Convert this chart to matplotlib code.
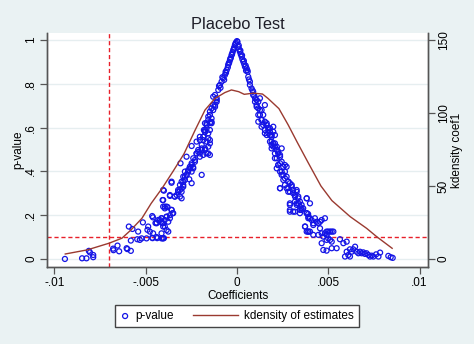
import numpy as np
import matplotlib.pyplot as plt
from matplotlib.legend_handler import HandlerLine2D

plt.rcParams['font.family'] = ['Liberation Sans', 'DejaVu Sans']

# %% Daten

coef = [
    # linker Rand
    -0.00942, -0.00848, -0.00824, -0.00811, -0.00805, -0.00787, -0.00787,
    -0.00678, -0.00676, -0.00654, -0.00645, -0.00604, -0.00600, -0.00581,
    -0.00592, -0.00572, -0.00581, -0.00541, -0.00532, -0.00522, -0.00546,
    -0.00515, -0.00486, -0.00490, -0.00477, -0.00464, -0.00460, -0.00440,
    -0.00446, -0.00495, -0.00464, -0.00440, -0.00416, -0.00410, -0.00413,
    # linke Flanke
    -0.00462, -0.00437, -0.00407, -0.00400, -0.00459, -0.00440, -0.00431,
    -0.00413, -0.00395, -0.00385, -0.00376, -0.00404, -0.00385, -0.00367,
    -0.00358, -0.00353, -0.00395, -0.00404, -0.00385, -0.00407, -0.00400,
    -0.00367, -0.00340, -0.00358, -0.00322, -0.00312, -0.00303, -0.00303,
    -0.00294, -0.00294, -0.00285, -0.00276, -0.00309, -0.00285, -0.00267,
    -0.00261, -0.00256, -0.00248, -0.00240, -0.00248, -0.00276, -0.00248,
    -0.00230, -0.00221, -0.00212, -0.00203, -0.00193, -0.00221, -0.00203,
    -0.00193, -0.00185, -0.00175, -0.00167, -0.00157, -0.00184, -0.00181,
    -0.00166, -0.00157, -0.00148, -0.00175, -0.00148, -0.00139, -0.00148,
    -0.00157, -0.00184, -0.00175, -0.00166, -0.00157, -0.00148, -0.00139,
    -0.00130, -0.00120, -0.00111, -0.00130, -0.00193, -0.00175,
    -0.00148, -0.00157, -0.00166, -0.00139, -0.00148, -0.00175, -0.00184,
    -0.00203, -0.00157, -0.00166, -0.00148, -0.00193, -0.00175, -0.00212,
    -0.00203, -0.00221, -0.00239, -0.00230, -0.00248, -0.00258, -0.00239,
    -0.00267, -0.00248, -0.00276, -0.00294, -0.00285, -0.00303, -0.00312,
    -0.00294, -0.00322, -0.00303, -0.00330, -0.00312, -0.00358, -0.00340,
    -0.00367, -0.00404, -0.00404, -0.00395, -0.00380, -0.00358, -0.00349,
    -0.00367, -0.00385, -0.00413, -0.00404, -0.00422, -0.00395, -0.00376,
    -0.00413, -0.00404, -0.00120, -0.00130, -0.00111,
    # Spitze links
    -0.00102, -0.00093, -0.00084, -0.00075, -0.00066, -0.00060, -0.00056,
    -0.00048, -0.00042, -0.00038, -0.00033, -0.00029, -0.00024, -0.00020,
    -0.00015, -0.00011, -0.00006, 0.00000, -0.00120, -0.00111, -0.00139,
    -0.00090, -0.00070, -0.00050, -0.00098, -0.00080, -0.00062, -0.00045,
    -0.00036, -0.00027, -0.00017, -0.00008,
    # Spitze rechts
    0.00003, 0.00007, 0.00012, 0.00016, 0.00021, 0.00026, 0.00030, 0.00035,
    0.00040, 0.00044, 0.00053, 0.00059, 0.00062, 0.00071, 0.00071, 0.00080,
    0.00089, 0.00089, 0.00099, 0.00108, 0.00117, 0.00126, 0.00108, 0.00117,
    0.00135, 0.00126, 0.00144, 0.00153, 0.00135, 0.00153, 0.00163, 0.00172,
    0.00181, 0.00190, 0.00199, 0.00208, 0.00190, 0.00208, 0.00050, 0.00066,
    0.00085, 0.00095, 0.00010, 0.00019, 0.00028, 0.00038, 0.00048, 0.00057,
    # rechte Flanke
    0.00117, 0.00135, 0.00153, 0.00172, 0.00181, 0.00190, 0.00199, 0.00218,
    0.00226, 0.00208, 0.00236, 0.00245, 0.00218, 0.00226, 0.00236, 0.00263,
    0.00272, 0.00245, 0.00254, 0.00263, 0.00236, 0.00281, 0.00290, 0.00272,
    0.00281, 0.00300, 0.00308, 0.00318, 0.00327, 0.00336, 0.00318, 0.00327,
    0.00336, 0.00290, 0.00290, 0.00345, 0.00354, 0.00308, 0.00382, 0.00400,
    0.00345, 0.00382, 0.00391, 0.00400, 0.00409, 0.00427, 0.00437, 0.00418,
    0.00446, 0.00464, 0.00482, 0.00373, 0.00382, 0.00400, 0.00455, 0.00464,
    0.00446, 0.00491, 0.00500, 0.00519,
    0.00099, 0.00108, 0.00126, 0.00117, 0.00135, 0.00144, 0.00163, 0.00153,
    0.00172, 0.00181, 0.00199, 0.00163, 0.00190, 0.00181, 0.00199, 0.00208,
    0.00190, 0.00218, 0.00226, 0.00208, 0.00236, 0.00245, 0.00226, 0.00218,
    0.00254, 0.00236, 0.00263, 0.00245, 0.00272, 0.00254, 0.00281, 0.00263,
    0.00300, 0.00236, 0.00281, 0.00290, 0.00308, 0.00327, 0.00318, 0.00336,
    0.00345, 0.00327, 0.00354, 0.00382, 0.00290, 0.00290, 0.00318, 0.00345,
    0.00363, 0.00382, 0.00391, 0.00373, 0.00391,
    # rechter Rand
    0.00354, 0.00390, 0.00418, 0.00455, 0.00391, 0.00418, 0.00473, 0.00482,
    0.00491, 0.00510, 0.00528, 0.00500, 0.00510, 0.00491, 0.00519, 0.00464,
    0.00473, 0.00491, 0.00519, 0.00546, 0.00564, 0.00583, 0.00601, 0.00601,
    0.00619, 0.00628, 0.00637, 0.00647, 0.00656, 0.00665, 0.00674, 0.00683,
    0.00692, 0.00701, 0.00710, 0.00720, 0.00729, 0.00738, 0.00747, 0.00762,
    0.00775, 0.00784, 0.00610, 0.00592, 0.00619, 0.00829, 0.00842, 0.00853,
]

pval = [
    # linker Rand
    0.000, 0.003, 0.003, 0.037, 0.030, 0.018, 0.008,
    0.047, 0.040, 0.061, 0.035, 0.049, 0.045, 0.037,
    0.148, 0.137, 0.084, 0.125, 0.087, 0.094, 0.090,
    0.167, 0.148, 0.133, 0.125, 0.196, 0.190, 0.166,
    0.164, 0.094, 0.097, 0.100, 0.170, 0.164, 0.094,
    # linke Flanke
    0.095, 0.095, 0.095, 0.095, 0.117, 0.163, 0.178,
    0.186, 0.178, 0.193, 0.170, 0.148, 0.132, 0.186,
    0.224, 0.209, 0.231, 0.239, 0.239, 0.269, 0.312,
    0.288, 0.285, 0.348, 0.307, 0.315, 0.277, 0.322,
    0.338, 0.352, 0.376, 0.384, 0.437, 0.399, 0.406,
    0.364, 0.414, 0.437, 0.420, 0.346, 0.467, 0.516,
    0.452, 0.482, 0.489, 0.467, 0.384, 0.536, 0.543,
    0.505, 0.475, 0.498, 0.482, 0.482, 0.558, 0.589,
    0.597, 0.574, 0.543, 0.620, 0.622, 0.626, 0.475,
    0.513, 0.543, 0.589, 0.620, 0.650, 0.673, 0.642,
    0.703, 0.695, 0.726, 0.741, 0.498, 0.581,
    0.658, 0.635, 0.612, 0.620, 0.589, 0.581, 0.558,
    0.558, 0.551, 0.536, 0.528, 0.521, 0.505, 0.498,
    0.482, 0.482, 0.460, 0.444, 0.429, 0.421, 0.414,
    0.399, 0.399, 0.384, 0.376, 0.361, 0.353, 0.338,
    0.330, 0.315, 0.307, 0.292, 0.285, 0.353, 0.285,
    0.292, 0.315, 0.269, 0.239, 0.237, 0.224, 0.209,
    0.200, 0.193, 0.186, 0.163, 0.178, 0.148, 0.125,
    0.117, 0.094, 0.703, 0.680, 0.718,
    # Spitze links
    0.772, 0.795, 0.810, 0.826, 0.840, 0.850, 0.863,
    0.886, 0.898, 0.909, 0.920, 0.932, 0.944, 0.954,
    0.966, 0.977, 0.988, 0.995, 0.749, 0.734, 0.688,
    0.782, 0.818, 0.875, 0.790, 0.830, 0.855, 0.893,
    0.915, 0.935, 0.960, 0.982,
    # Spitze rechts
    0.992, 0.969, 0.958, 0.947, 0.935, 0.924, 0.912, 0.901,
    0.890, 0.878, 0.871, 0.855, 0.832, 0.810, 0.795, 0.779,
    0.764, 0.749, 0.734, 0.726, 0.718, 0.734, 0.703, 0.688,
    0.680, 0.658, 0.658, 0.703, 0.635, 0.627, 0.612, 0.597,
    0.581, 0.566, 0.581, 0.566, 0.536, 0.528, 0.860, 0.820,
    0.770, 0.745, 0.975, 0.952, 0.930, 0.905, 0.883, 0.862,
    # rechte Flanke
    0.627, 0.604, 0.574, 0.589, 0.566, 0.521, 0.513, 0.513,
    0.490, 0.482, 0.475, 0.505, 0.460, 0.429, 0.437, 0.429,
    0.421, 0.399, 0.384, 0.368, 0.323, 0.353, 0.346, 0.323,
    0.307, 0.330, 0.315, 0.292, 0.307, 0.285, 0.262, 0.247,
    0.254, 0.254, 0.224, 0.239, 0.224, 0.216, 0.277, 0.254,
    0.209, 0.209, 0.193, 0.186, 0.178, 0.186, 0.170, 0.155,
    0.163, 0.178, 0.186, 0.148, 0.125, 0.125, 0.140, 0.117,
    0.110, 0.110, 0.125, 0.125,
    0.718, 0.695, 0.680, 0.658, 0.635, 0.612, 0.620, 0.589,
    0.574, 0.597, 0.604, 0.566, 0.558, 0.536, 0.528, 0.513,
    0.505, 0.498, 0.482, 0.460, 0.467, 0.444, 0.429, 0.414,
    0.421, 0.399, 0.399, 0.384, 0.376, 0.361, 0.353, 0.338,
    0.338, 0.323, 0.323, 0.307, 0.300, 0.315, 0.285, 0.277,
    0.262, 0.254, 0.247, 0.277, 0.247, 0.216, 0.216, 0.224,
    0.231, 0.209, 0.186, 0.148, 0.125,
    # rechter Rand
    0.231, 0.205, 0.163, 0.170, 0.125, 0.110, 0.102, 0.117,
    0.125, 0.125, 0.125, 0.094, 0.087, 0.087, 0.079, 0.072,
    0.041, 0.038, 0.049, 0.049, 0.090, 0.072, 0.079, 0.033,
    0.044, 0.033, 0.044, 0.056, 0.033, 0.026, 0.033, 0.026,
    0.030, 0.023, 0.026, 0.018, 0.011, 0.015, 0.011, 0.021,
    0.011, 0.029, 0.018, 0.011, 0.011, 0.014, 0.008, 0.005,
]

kd_x = [-0.0094, -0.0082, -0.0070, -0.0063, -0.0058, -0.0052, -0.0047, -0.0041,
        -0.0035, -0.0029, -0.0023, -0.00175, -0.0012, -0.00066, -0.0003, 0.0001,
        0.0004, 0.0009, 0.0014, 0.0017, 0.0023, 0.0028, 0.0033, 0.0039, 0.0046,
        0.0052, 0.0062, 0.0071, 0.00765, 0.0085]
kd_y = [3.4, 6.2, 10.8, 14.2, 19.9, 27.9, 38.0, 48.4,
        60.0, 72.0, 88.0, 102.0, 110.0, 114.0, 115.8, 114.6,
        112.8, 113.6, 113.0, 110.0, 103.0, 92.0, 80.0, 66.0, 50.0,
        40.0, 29.0, 21.0, 15.3, 7.3]

x_ticks = [-0.01, -0.005, 0, 0.005, 0.01]
x_ticklabels = ['-.01', '-.005', '0', '.005', '.01']
p_ticks = [0, 0.2, 0.4, 0.6, 0.8, 1]
p_ticklabels = ['0', '.2', '.4', '.6', '.8', '1']
kd_ticks = [0, 50, 100, 150]


# Legendenlinie nach links verlaengern (Stata-Stil: kurzer Marker, lange Linie)
class LongLine(HandlerLine2D):
    def create_artists(self, legend, orig_handle, xdescent, ydescent,
                       width, height, fontsize, trans):
        extra = 3.0 * fontsize
        return super().create_artists(legend, orig_handle, xdescent + extra,
                                      ydescent, width + extra, height,
                                      fontsize, trans)


# %% Plot

bg = '#EAF2F3'
fig = plt.figure(figsize=(4.74, 3.44), dpi=100, facecolor=bg)
ax = fig.add_axes([0.0992, 0.224, 0.804, 0.680])
ax.set_facecolor('white')

ax.grid(axis='y', color='#E6EEF0', linewidth=1.0)
ax.set_axisbelow(True)

sc = ax.scatter(coef, pval, s=13, facecolors='none', edgecolors='#1414E6',
                linewidths=0.9, zorder=3, label='p-value')
ax.axvline(-0.007, color='#E8202A', linestyle=(0, (3, 2)), linewidth=1.0, zorder=2)
ax.axhline(0.1, color='#E8202A', linestyle=(0, (3, 2)), linewidth=1.0, zorder=2)

ax.set_xlim(-0.0104, 0.01047)
ax.set_ylim(-0.0365, 1.032)
ax.set_xticks(x_ticks)
ax.set_xticklabels(x_ticklabels)
ax.set_yticks(p_ticks)
ax.set_yticklabels(p_ticklabels, rotation=90, va='center')
ax.set_xlabel('Coefficients', fontsize=8.5, labelpad=1)
ax.set_ylabel('p-value', fontsize=8.5, labelpad=1)

ax2 = ax.twinx()
ax2.patch.set_visible(False)
ln, = ax2.plot(kd_x, kd_y, color='#9A3A30', linewidth=1.0, label='kdensity of estimates')
ax2.set_ylim(-0.0365 * 150, 1.032 * 150)
ax2.set_yticks(kd_ticks)
ax2.set_yticklabels([str(t) for t in kd_ticks], rotation=90, va='center')
ax2.set_ylabel('kdensity coef1', fontsize=8.5, rotation=90, labelpad=1)

for a in (ax, ax2):
    a.spines['top'].set_visible(False)
    for s in ('left', 'right', 'bottom'):
        a.spines[s].set_color('#555555')
        a.spines[s].set_linewidth(1.0)
    a.tick_params(labelsize=8.5, length=5, width=0.9, color='#555555', pad=2)

ax.set_title('Placebo Test', fontsize=11.8, color='#1E1E28', pad=3)

fig.legend(handles=[sc, ln], loc='center', bbox_to_anchor=(0.5, 0.081), ncol=2,
           fontsize=8.5, frameon=True, fancybox=False, edgecolor='#444444',
           framealpha=1, handlelength=0.8, handletextpad=0.5, columnspacing=4.6,
           borderpad=0.45, scatterpoints=1, handler_map={ln: LongLine()})

fig.savefig('out.png', dpi=100, facecolor=bg)
